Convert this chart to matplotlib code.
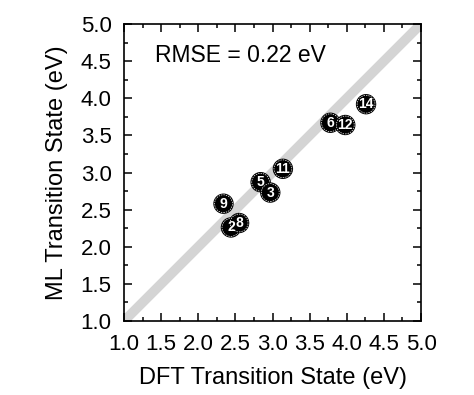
import matplotlib.pyplot as plt

plt.rcParams['font.family'] = ['Liberation Sans', 'DejaVu Sans']

# data (drawing order: later ones sit on top)
labels = ['9', '2', '8', '5', '3', '11', '6', '12', '14']
dft_ts = [2.34, 2.44, 2.55, 2.84, 2.97, 3.14, 3.78, 3.98, 4.26]
ml_ts = [2.58, 2.26, 2.32, 2.87, 2.73, 3.05, 3.67, 3.64, 3.92]
rmse = 0.22

fig = plt.figure(figsize=(4.74, 3.95), dpi=100)
ax = fig.add_axes([0.2616, 0.1873, 0.6266, 0.7519])

# parity line
ax.plot([1, 5], [1, 5], color='#d4d4d4', lw=7, solid_capstyle='butt', zorder=1)

for i, (lab, x, y) in enumerate(zip(labels, dft_ts, ml_ts)):
    z = 3 + i * 2
    ax.scatter([x], [y], s=215, color='black', edgecolors='none', zorder=z)
    ax.scatter([x], [y], s=165, facecolors='none', edgecolors='white',
               linewidths=0.5, linestyles=(0, (2, 1.5)), zorder=z + 1)
    # numbers stay readable on top of all circles
    ax.text(x, y, lab, color='white', fontsize=10, fontweight='bold',
            ha='center', va='center', zorder=50)

ax.text(1.42, 4.58, f'RMSE = {rmse:.2f} eV', fontsize=16.5, ha='left', va='center')

ax.set_xlim(1, 5)
ax.set_ylim(1, 5)
ticks = [1.0, 1.5, 2.0, 2.5, 3.0, 3.5, 4.0, 4.5, 5.0]
ax.set_xticks(ticks)
ax.set_yticks(ticks)
ax.set_xticks([t + 0.25 for t in ticks[:-1]], minor=True)
ax.set_yticks([t + 0.25 for t in ticks[:-1]], minor=True)
ax.set_xticklabels([f'{t:.1f}' for t in ticks])
ax.set_yticklabels([f'{t:.1f}' for t in ticks])
ax.tick_params(which='both', direction='in', top=True, right=True, labelsize=16, width=1.1)
ax.tick_params(which='major', length=6, pad=9)
ax.tick_params(which='minor', length=3)
for s in ax.spines.values():
    s.set_linewidth(1.2)

ax.set_xlabel('DFT Transition State (eV)', fontsize=17, labelpad=9)
ax.set_ylabel('ML Transition State (eV)', fontsize=17, labelpad=9)

fig.savefig('out.png', dpi=100)
